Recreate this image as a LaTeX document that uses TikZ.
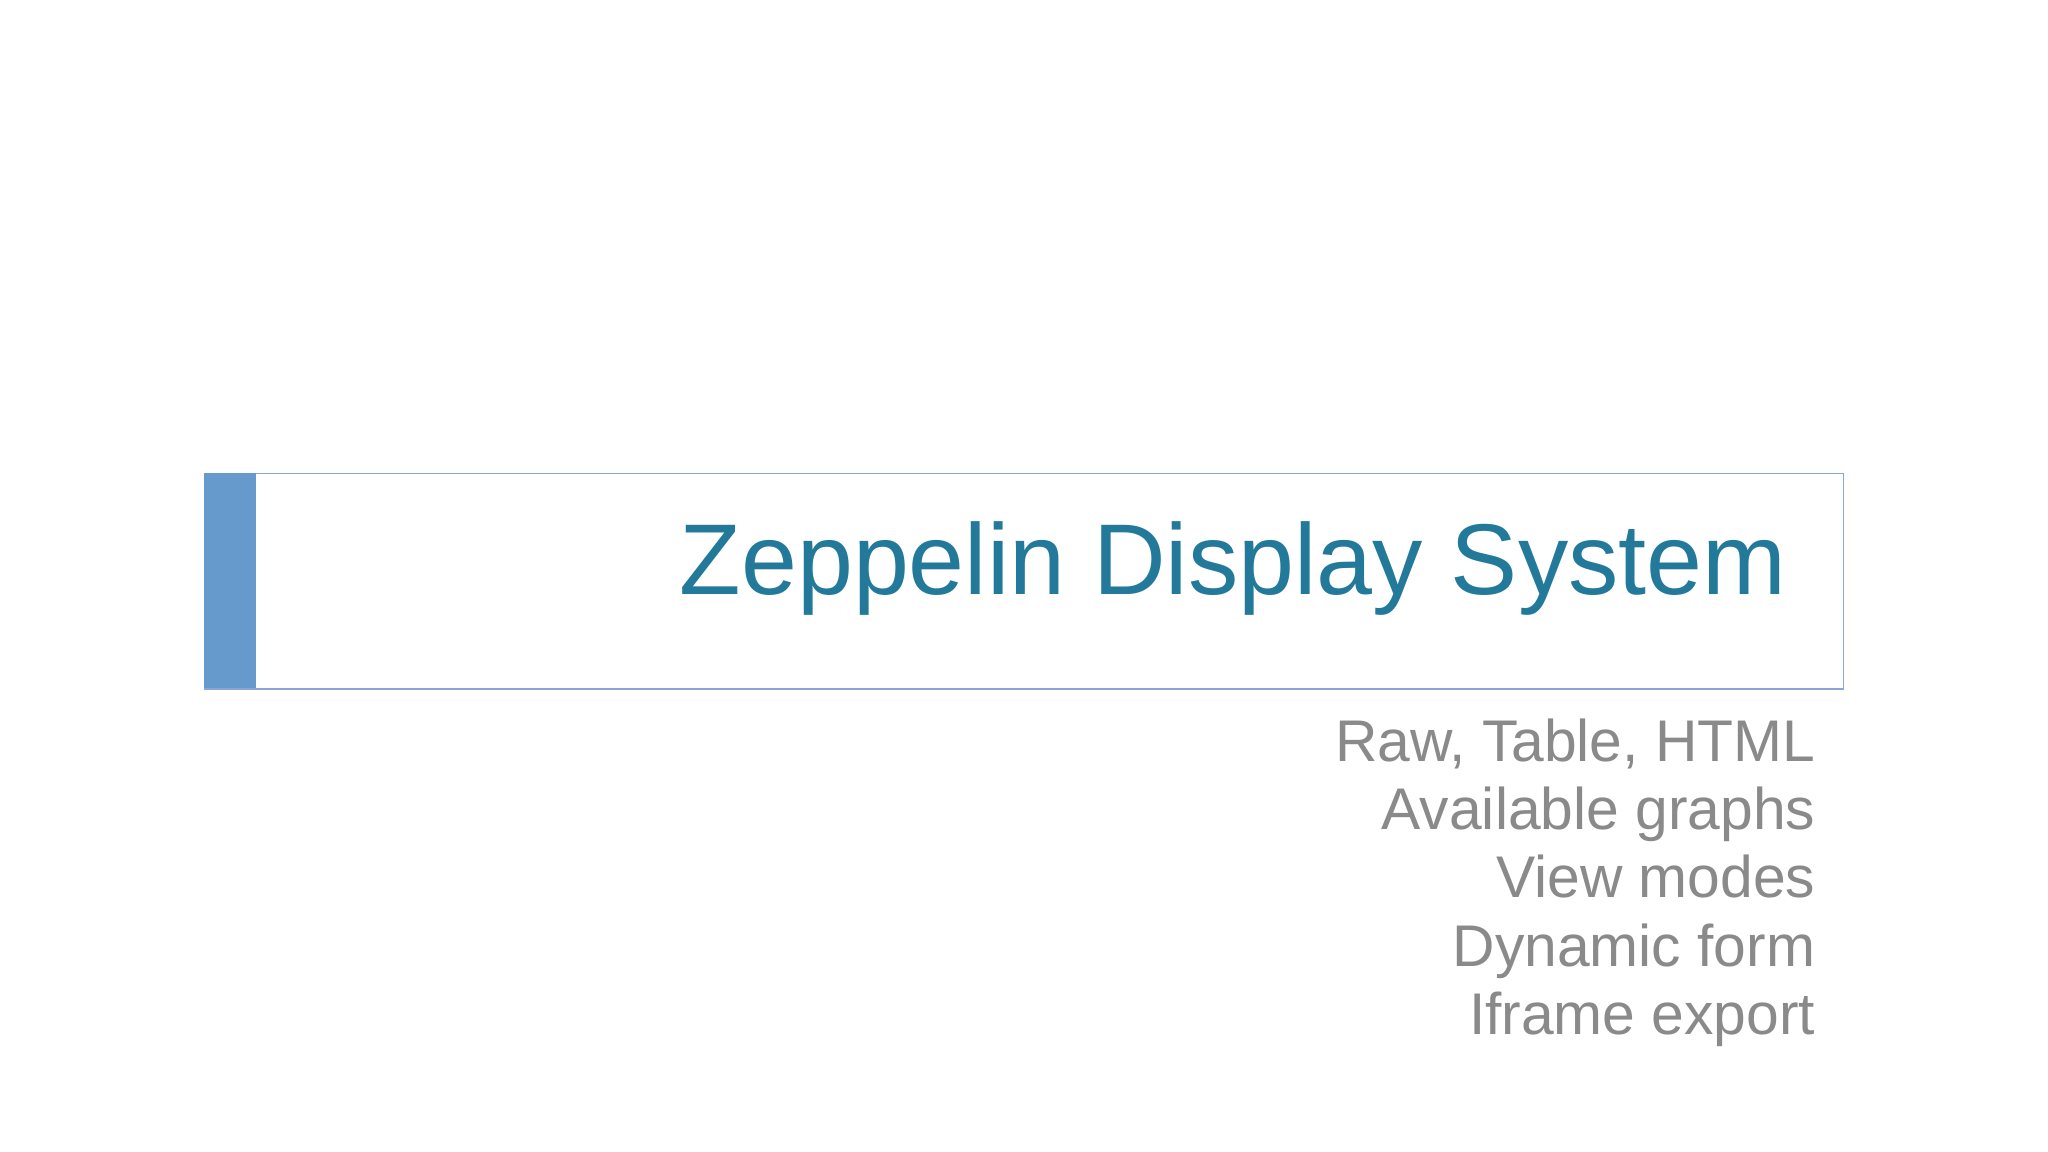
\documentclass[tikz,border=0pt]{standalone}
\usepackage{fontspec}
\setmainfont{Liberation Sans}
\definecolor{titlec}{HTML}{23799A}
\definecolor{barc}{HTML}{6699CC}
\definecolor{framec}{HTML}{8BA5D6}
\definecolor{subc}{HTML}{8A8A8A}
\tikzset{subline/.style={anchor=base east,text=subc,font=\fontsize{45}{45}\selectfont,inner sep=0pt}}
\begin{document}
\begin{tikzpicture}[x=1pt,y=-1pt]
\useasboundingbox (0,0) rectangle (1568,882);
\fill[white] (0,0) rectangle (1568,882);
\node[draw=framec,line width=1pt,minimum width=1255pt,minimum height=165pt,anchor=north west,inner sep=0pt] (box) at (156,362) {};
\fill[barc] (156,362) rectangle (196,527);
\node[anchor=base east,text=titlec,font=\fontsize{77}{77}\selectfont,inner sep=0pt] (title) at (1368,455) {Zeppelin Display System};
\node[subline] (s1) at (1390,583) {Raw, Table, HTML};
\node[subline] (s2) at (1390,635) {Available graphs};
\node[subline] (s3) at (1390,687) {View modes};
\node[subline] (s4) at (1390,740) {Dynamic form};
\node[subline] (s5) at (1390,792) {Iframe export};
\end{tikzpicture}
\end{document}
